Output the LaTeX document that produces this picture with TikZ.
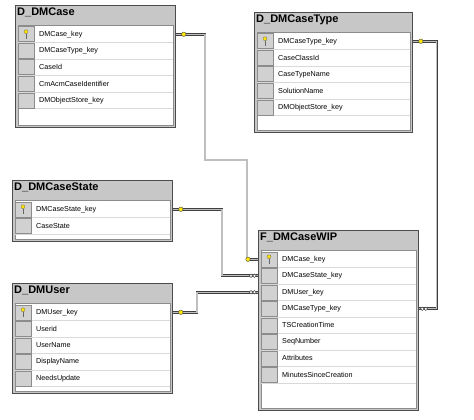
\documentclass[tikz,border=0pt]{standalone}
\usepackage{fontspec}
\setmainfont{Liberation Sans}
\usetikzlibrary{calc}

\tikzset{
  tbl/.style={draw=black!70, fill=black!22, line width=0.8pt, inner sep=0pt},
  ttl/.style={font=\bfseries\fontsize{11}{11}\selectfont, inner sep=1pt},
  inner/.style={draw=black!45, fill=white},
  gut/.style={draw=black!45, fill=black!18, line width=0.5pt},
  fld/.style={font=\fontsize{7.2}{8}\selectfont, anchor=west, inner sep=0pt},
  rel/.style={draw=black!75, double=black!25, double distance=1.2pt, line width=0.7pt},
  keyend/.style={circle, draw=black!70, fill=yellow!90!orange, inner sep=0pt, minimum size=4.5pt},
  manyend/.style={circle, draw=black!70, fill=white, inner sep=0pt, minimum size=3.6pt, line width=0.5pt}
}

% #1 name, #2 x, #3 y, #4 width, #5 height, #6 title, #7 fields
\newcommand{\dbtable}[7]{
  \node[tbl, minimum width=#4, minimum height=#5, anchor=north west] (#1) at (#2,#3) {};
  \node[ttl, anchor=north west] (#1t) at ([xshift=1pt,yshift=-2pt]#1.north west) {#6};
  \draw[inner] ($(#1.north west)+(3pt,-20pt)$) rectangle ($(#1.south east)+(-3pt,3pt)$);
  \foreach \f [count=\i] in {#7} {
    \coordinate (#1-\i-w) at ($(#1.north west)+(0,-21pt-\i*16.5pt+8.25pt)$);
    \coordinate (#1-\i-e) at ($(#1.north east)+(0,-21pt-\i*16.5pt+8.25pt)$);
    \draw[black!15] ($(#1-\i-w)+(3pt,-8.25pt)$) -- ($(#1-\i-e)+(-3pt,-8.25pt)$);
    \draw[gut] ($(#1-\i-w)+(3.5pt,7.5pt)$) rectangle ($(#1-\i-w)+(19pt,-7.5pt)$);
    \node[fld] (#1-\i) at ($(#1-\i-w)+(24pt,0)$) {\f};
  }
  % key icon in first row
  \fill[yellow!85!orange, draw=black!60, line width=0.3pt] ($(#1-1-w)+(11pt,2.5pt)$) circle (2pt);
  \draw[black!60, line width=0.6pt] ($(#1-1-w)+(11pt,0.5pt)$) -- ++(0,-4.5pt) -- ++(1.2pt,0);
}

\begin{document}
\begin{tikzpicture}[x=1pt, y=-1pt]
  \useasboundingbox (0,0) rectangle (474,420);

  \dbtable{case}{15}{5}{160}{122}{D\_DMCase}
    {DMCase\_key, DMCaseType\_key, CaseId, CmAcmCaseIdentifier, DMObjectStore\_key}
  \dbtable{type}{254}{12}{158}{120}{D\_DMCaseType}
    {DMCaseType\_key, CaseClassId, CaseTypeName, SolutionName, DMObjectStore\_key}
  \dbtable{state}{12}{180}{160}{61}{D\_DMCaseState}
    {DMCaseState\_key, CaseState}
  \dbtable{user}{12}{283}{160}{110}{D\_DMUser}
    {DMUser\_key, Userid, UserName, DisplayName, NeedsUpdate}
  \dbtable{wip}{258}{230}{160}{180}{F\_DMCaseWIP}
    {DMCase\_key, DMCaseState\_key, DMUser\_key, DMCaseType\_key, TSCreationTime,
     SeqNumber, Attributes, MinutesSinceCreation}

  % relationships
  \coordinate (cbend) at (205,160);
  \draw[rel] (case-1-e) -| (cbend) -| ([xshift=-11pt]wip-1-w) -- (wip-1-w);
  \draw[rel] (state-1-e) -| ([xshift=-36pt]wip-2-w) -- (wip-2-w);
  \draw[rel] (user-1-e) -| ([xshift=-61pt]wip-3-w) -- (wip-3-w);
  \draw[rel] (type-1-e) -| ([xshift=18pt]wip-4-e) -- (wip-4-e);

  % ends
  \node[keyend] at ([xshift=8pt]case-1-e) {};
  \node[keyend] at ([xshift=8pt]state-1-e) {};
  \node[keyend] at ([xshift=8pt]user-1-e) {};
  \node[keyend] at ([xshift=8pt]type-1-e) {};
  \node[keyend] at ([xshift=-10pt]wip-1-w) {};
  \foreach \r in {2,3} {
    \node[manyend] at ([xshift=-3.5pt]wip-\r-w) {};
    \node[manyend] at ([xshift=-7pt]wip-\r-w) {};
  }
  \node[manyend] at ([xshift=3.5pt]wip-4-e) {};
  \node[manyend] at ([xshift=7pt]wip-4-e) {};
\end{tikzpicture}
\end{document}
